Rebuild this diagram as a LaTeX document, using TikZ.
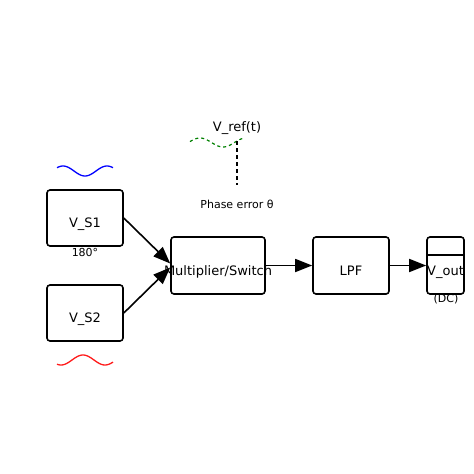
\documentclass[tikz,border=0pt]{standalone}
\usepackage{fontspec}
\setmainfont{DejaVu Sans}
\usetikzlibrary{arrows.meta}
\begin{document}
\begin{tikzpicture}[x=1pt,y=-1pt,
  blockbox/.style={draw=black, line width=1.6pt, rounded corners=3pt, inner ysep=0pt, inner xsep=-20pt,
    font=\fontsize{13}{15}\selectfont, text height=22pt, text depth=3pt},
  conn/.style={line width=1.6pt, -{Triangle[length=17pt,width=13pt]}},
  small/.style={font=\fontsize{11}{13}\selectfont, inner sep=0pt},
  big/.style={font=\fontsize{13}{15}\selectfont, inner sep=0pt}]
\useasboundingbox (0,0) rectangle (474,474);
% blocks
\node[blockbox, minimum width=76pt, minimum height=56pt] (s1) at (85,218) {V\_S1};
\node[blockbox, minimum width=76pt, minimum height=56pt] (s2) at (85,313) {V\_S2};
\node[blockbox, minimum width=94pt, minimum height=57pt] (mul) at (218,265.5) {Multiplier/Switch};
\node[blockbox, minimum width=76pt, minimum height=57pt] (lpf) at (351,265.5) {LPF};
\node[blockbox, minimum width=37pt, minimum height=57pt] (vout) at (445.5,265.5) {V\_out};
\draw[line width=1.6pt] ([yshift=-19pt]vout.north west) -- ([yshift=-19pt]vout.north east);
% labels
\node[small] (deg) at (85,252) {180°};
\node[small] (dc) at (446,299) {(DC)};
\node[big] (vref) at (237,128) {V\_ref(t)};
\node[small] (pe) at (237,204) {Phase error θ};
% waves
\draw[blue, line width=1.3pt] plot[domain=57:113, samples=60, smooth] (\x, {171 + 5*cos(360*(\x-85)/44)});
\draw[red!90!white, line width=1.3pt] plot[domain=57:113, samples=60, smooth] (\x, {360 - 5*cos(360*(\x-83)/44)});
\draw[green!50!black, line width=1.2pt, dash pattern=on 3pt off 3pt] plot[domain=190:243, samples=60, smooth] (\x, {142.5 + 4.5*cos(360*(\x-223)/46)});
% phase error marker
\coordinate (p1) at (237,141);
\coordinate (p2) at (237,185);
\draw[line width=2pt, dash pattern=on 4pt off 3pt] (p1) -- (p2);
% connectors
\draw[conn] (s1.east) -- ([yshift=2pt]mul.west);
\draw[conn] (s2.east) -- ([yshift=-2pt]mul.west);
\draw[conn] (mul.east) -- (lpf.west);
\draw[conn] (lpf.east) -- (vout.west);
\end{tikzpicture}
\end{document}
